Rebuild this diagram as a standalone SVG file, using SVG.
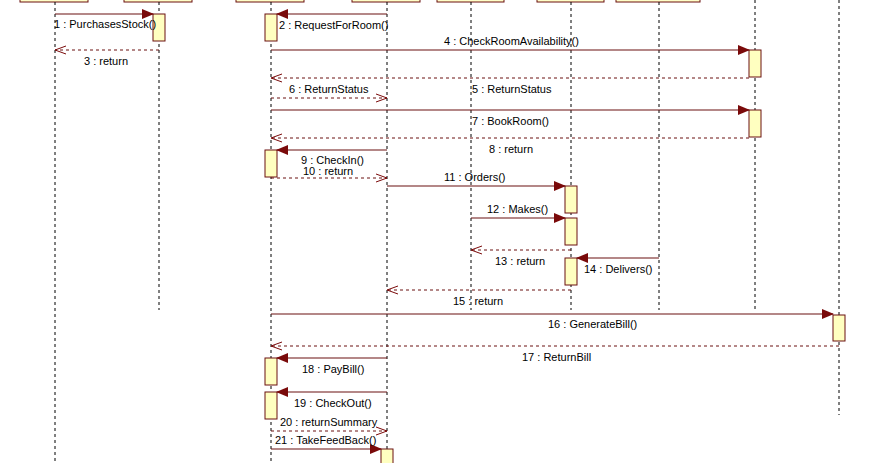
<svg xmlns="http://www.w3.org/2000/svg" width="881" height="463" viewBox="0 0 881 463">
<defs>
<marker id="f" markerWidth="12" markerHeight="10" refX="11" refY="5" orient="auto" markerUnits="userSpaceOnUse"><path d="M0,0 L12,5 L0,10 Z" fill="#7a0a0a"/></marker>
<marker id="o" markerWidth="12" markerHeight="10" refX="11" refY="5" orient="auto" markerUnits="userSpaceOnUse"><path d="M0,1 L11,5 L0,9" fill="none" stroke="#7a0a0a" stroke-width="1"/></marker>
</defs>
<style>
.ll{stroke:#000;stroke-width:1;stroke-dasharray:3,3}
.hd{fill:#ffffc8;stroke:#6b1010}
.act{fill:#ffffc0;stroke:#6b1010;stroke-width:1}
.m{stroke:#6b1010;stroke-width:1.2;fill:none;marker-end:url(#f)}
.r{stroke:#6b1010;stroke-width:1;fill:none;stroke-dasharray:3,3;marker-end:url(#o)}
text{font-family:"Liberation Sans",Arial,sans-serif;font-size:11px;fill:#000}
</style>
<rect width="881" height="463" fill="#fff"/>
<g id="lifelines">
<rect class="hd" x="20" y="-10" width="68" height="12"/>
<rect class="hd" x="124" y="-10" width="68" height="12"/>
<rect class="hd" x="236" y="-10" width="68" height="12"/>
<rect class="hd" x="352" y="-10" width="68" height="12"/>
<rect class="hd" x="437" y="-10" width="67" height="12"/>
<rect class="hd" x="537" y="-10" width="67" height="12"/>
<rect class="hd" x="616" y="-10" width="84" height="12"/>
<line class="ll" x1="55" y1="2" x2="55" y2="463"/>
<line class="ll" x1="159" y1="2" x2="159" y2="310"/>
<line class="ll" x1="271" y1="2" x2="271" y2="463"/>
<line class="ll" x1="387" y1="2" x2="387" y2="463"/>
<line class="ll" x1="471" y1="2" x2="471" y2="310"/>
<line class="ll" x1="571" y1="2" x2="571" y2="310"/>
<line class="ll" x1="659" y1="2" x2="659" y2="310"/>
<line class="ll" x1="755" y1="0" x2="755" y2="310"/>
<line class="ll" x1="839" y1="0" x2="839" y2="415"/>
</g>
<g id="activations">
<rect class="act" x="153" y="14" width="12" height="27"/>
<rect class="act" x="265" y="14" width="12" height="27"/>
<rect class="act" x="749" y="50" width="12" height="27"/>
<rect class="act" x="749" y="110" width="12" height="27"/>
<rect class="act" x="265" y="150" width="12" height="27"/>
<rect class="act" x="565" y="186" width="12" height="27"/>
<rect class="act" x="565" y="218" width="12" height="27"/>
<rect class="act" x="565" y="258" width="12" height="27"/>
<rect class="act" x="833" y="315" width="12" height="26"/>
<rect class="act" x="265" y="358" width="12" height="27"/>
<rect class="act" x="265" y="392" width="12" height="27"/>
<rect class="act" x="381" y="449" width="12" height="20"/>
</g>
<g id="connectors">
<line class="m" x1="55" y1="14" x2="153" y2="14"/>
<line class="m" x1="387" y1="14" x2="277" y2="14"/>
<line class="r" x1="159" y1="50" x2="55" y2="50"/>
<line class="m" x1="271" y1="50" x2="749" y2="50"/>
<line class="r" x1="749" y1="78" x2="271" y2="78"/>
<line class="r" x1="271" y1="98" x2="387" y2="98"/>
<line class="m" x1="271" y1="110" x2="749" y2="110"/>
<line class="r" x1="749" y1="138" x2="271" y2="138"/>
<line class="m" x1="387" y1="150" x2="277" y2="150"/>
<line class="r" x1="271" y1="178" x2="387" y2="178"/>
<line class="m" x1="387" y1="186" x2="565" y2="186"/>
<line class="m" x1="471" y1="218" x2="565" y2="218"/>
<line class="r" x1="571" y1="250" x2="471" y2="250"/>
<line class="m" x1="659" y1="258" x2="577" y2="258"/>
<line class="r" x1="571" y1="290" x2="387" y2="290"/>
<line class="m" x1="271" y1="314" x2="833" y2="314"/>
<line class="r" x1="839" y1="346" x2="271" y2="346"/>
<line class="m" x1="387" y1="358" x2="277" y2="358"/>
<line class="m" x1="387" y1="392" x2="277" y2="392"/>
<line class="r" x1="271" y1="431" x2="387" y2="431"/>
<line class="m" x1="271" y1="449" x2="381" y2="449"/>
</g>
<g id="labels">
<text x="54" y="28">1 : PurchasesStock()</text>
<text x="279" y="29">2 : RequestForRoom()</text>
<text x="84" y="65">3 : return</text>
<text x="444" y="45">4 : CheckRoomAvailability()</text>
<text x="472" y="93">5 : ReturnStatus</text>
<text x="289" y="93">6 : ReturnStatus</text>
<text x="472" y="125">7 : BookRoom()</text>
<text x="489" y="153">8 : return</text>
<text x="301" y="164">9 : CheckIn()</text>
<text x="303" y="175">10 : return</text>
<text x="444" y="181">11 : Orders()</text>
<text x="487" y="213">12 : Makes()</text>
<text x="495" y="265">13 : return</text>
<text x="584" y="273">14 : Delivers()</text>
<text x="453" y="305">15 : return</text>
<text x="548" y="328">16 : GenerateBill()</text>
<text x="522" y="361">17 : ReturnBill</text>
<text x="302" y="373">18 : PayBill()</text>
<text x="294" y="407">19 : CheckOut()</text>
<text x="280" y="426">20 : returnSummary</text>
<text x="275" y="444">21 : TakeFeedBack()</text>
</g>
</svg>
